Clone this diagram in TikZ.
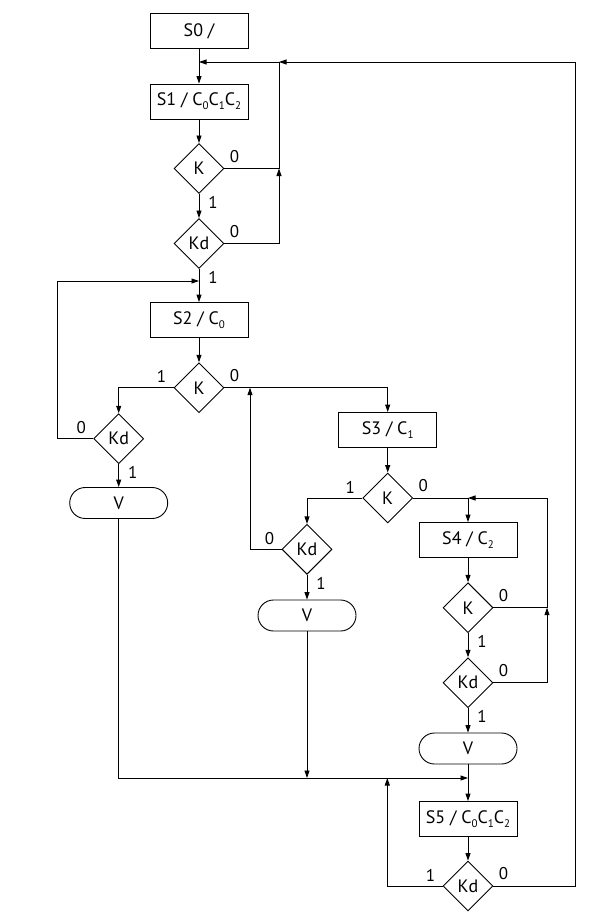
\documentclass[tikz,border=0pt]{standalone}
\usepackage{fontspec}
\setmainfont{PT Sans}
\usepackage{tikz}
\usetikzlibrary{positioning,shapes.geometric,arrows.meta}
\newcommand\sbs[1]{\raisebox{-0.45ex}{\fontsize{11}{11}\selectfont #1}}

\begin{document}
\begin{tikzpicture}[
    x=1pt, y=-1pt,
    line width=0.9pt,
    state/.style={draw, line width=0.9pt, minimum width=98pt, minimum height=35pt, inner sep=0pt, font=\fontsize{18}{20}\selectfont},
    test/.style={draw, diamond, aspect=1, line width=0.9pt, minimum width=50pt, minimum height=50pt, inner sep=0pt, font=\fontsize{18}{20}\selectfont},
    term/.style={draw, rounded corners=15.5pt, line width=0.9pt, minimum width=98pt, minimum height=31pt, inner sep=0pt, font=\fontsize{18}{20}\selectfont},
    arrow/.style={-{Triangle[length=7.5pt,width=5pt]}},
    lbr/.style={font=\fontsize{17}{18}\selectfont, inner sep=0pt, xshift=10pt, yshift=12pt},
    lbl/.style={font=\fontsize{17}{18}\selectfont, inner sep=0pt, xshift=-12pt, yshift=11pt},
    lbd/.style={font=\fontsize{17}{18}\selectfont, inner sep=0pt, xshift=14pt, yshift=-8.5pt}
]
\useasboundingbox (0,0) rectangle (590,915);

% Start and S1 loop
\node[state] (s0) at (199,31) {S0 /};
\node[state] (s1) at (199,101.5) {S1 / C\sbs{0}C\sbs{1}C\sbs{2}};
\node[test] (k1) at (199,168.5) {K};
\node[test] (kd1) at (199,243.5) {Kd};

% S2 branch
\node[state] (s2) at (199,320) {S2 / C\sbs{0}};
\node[test] (k2) at (199,387.7) {K};
\node[test] (kd2) at (118.7,438.7) {Kd};
\node[term] (v1) at (118.7,503) {V};

% S3 branch
\node[state] (s3) at (387.7,430) {S3 / C\sbs{1}};
\node[test] (k3) at (387.7,498) {K};
\node[test] (kd3) at (307,549.3) {Kd};
\node[term] (v2) at (307,615.5) {V};

% S4 loop
\node[state] (s4) at (468,540) {S4 / C\sbs{2}};
\node[test] (k4) at (468,607.7) {K};
\node[test] (kd4) at (468,682.7) {Kd};
\node[term] (v3) at (468,748.5) {V};

% S5
\node[state] (s5) at (468,819) {S5 / C\sbs{0}C\sbs{1}C\sbs{2}};
\node[test] (kd5) at (468,886) {Kd};

% Junctions
\coordinate (j1) at (279,62);
\coordinate (m1) at (199,62);
\coordinate (j2) at (279,168.5);
\coordinate (m2) at (199,281);
\coordinate (m3) at (250,387.7);
\coordinate (m4) at (468,498);
\coordinate (j4) at (547,607.7);
\coordinate (m5) at (468,778);
\coordinate (m6) at (307,778);
\coordinate (m7) at (387.3,778);
\coordinate (r1) at (575.7,62);

% Arrows, main column
\draw[arrow] (s0) -- (s1);
\draw[arrow] (s1) -- (k1);
\draw[arrow] (k1) -- (kd1) node[lbd, pos=0] {1};
\draw[arrow] (kd1) -- (s2) node[lbd, pos=0] {1};
\draw (k1.east) node[lbr] {0} -- (j2) -- (j1);
\draw[arrow] (kd1.east) node[lbr] {0} -| (j2);
\draw[arrow] (j1) -- (m1);
\draw[arrow] (s2) -- (k2);

% Arrows, S2 branch
\draw[arrow] (k2.west) node[lbl] {1} -| (kd2.north);
\draw[arrow] (kd2.west) node[lbl] {0} -- ++(-36.3,0) |- (m2);
\draw[arrow] (kd2) -- (v1) node[lbd, pos=0] {1};
\draw[arrow] (k2.east) node[lbr] {0} -| (s3.north);
\draw[arrow] (v1.south) |- (m5);

% Arrows, S3 branch
\draw[arrow] (s3) -- (k3);
\draw[arrow] (k3.west) node[lbl] {1} -| (kd3.north);
\draw[arrow] (kd3.west) node[lbl] {0} -| (m3);
\draw[arrow] (kd3) -- (v2) node[lbd, pos=0] {1};
\draw[arrow] (v2) -- (m6);
\draw[arrow] (k3.east) node[lbr] {0} -| (s4.north);

% Arrows, S4 loop
\draw[arrow] (s4) -- (k4);
\draw[arrow] (k4.east) node[lbr] {0} -- (j4) |- (m4);
\draw[arrow] (kd4.east) node[lbr] {0} -| (j4);
\draw[arrow] (k4) -- (kd4) node[lbd, pos=0] {1};
\draw[arrow] (kd4) -- (v3) node[lbd, pos=0] {1};
\draw[arrow] (v3) -- (s5);

% Arrows, S5
\draw[arrow] (s5) -- (kd5);
\draw[arrow] (kd5.west) node[lbl] {1} -| (m7);
\draw[arrow] (kd5.east) node[lbr] {0} -| (r1) -- (j1);

\end{tikzpicture}
\end{document}
